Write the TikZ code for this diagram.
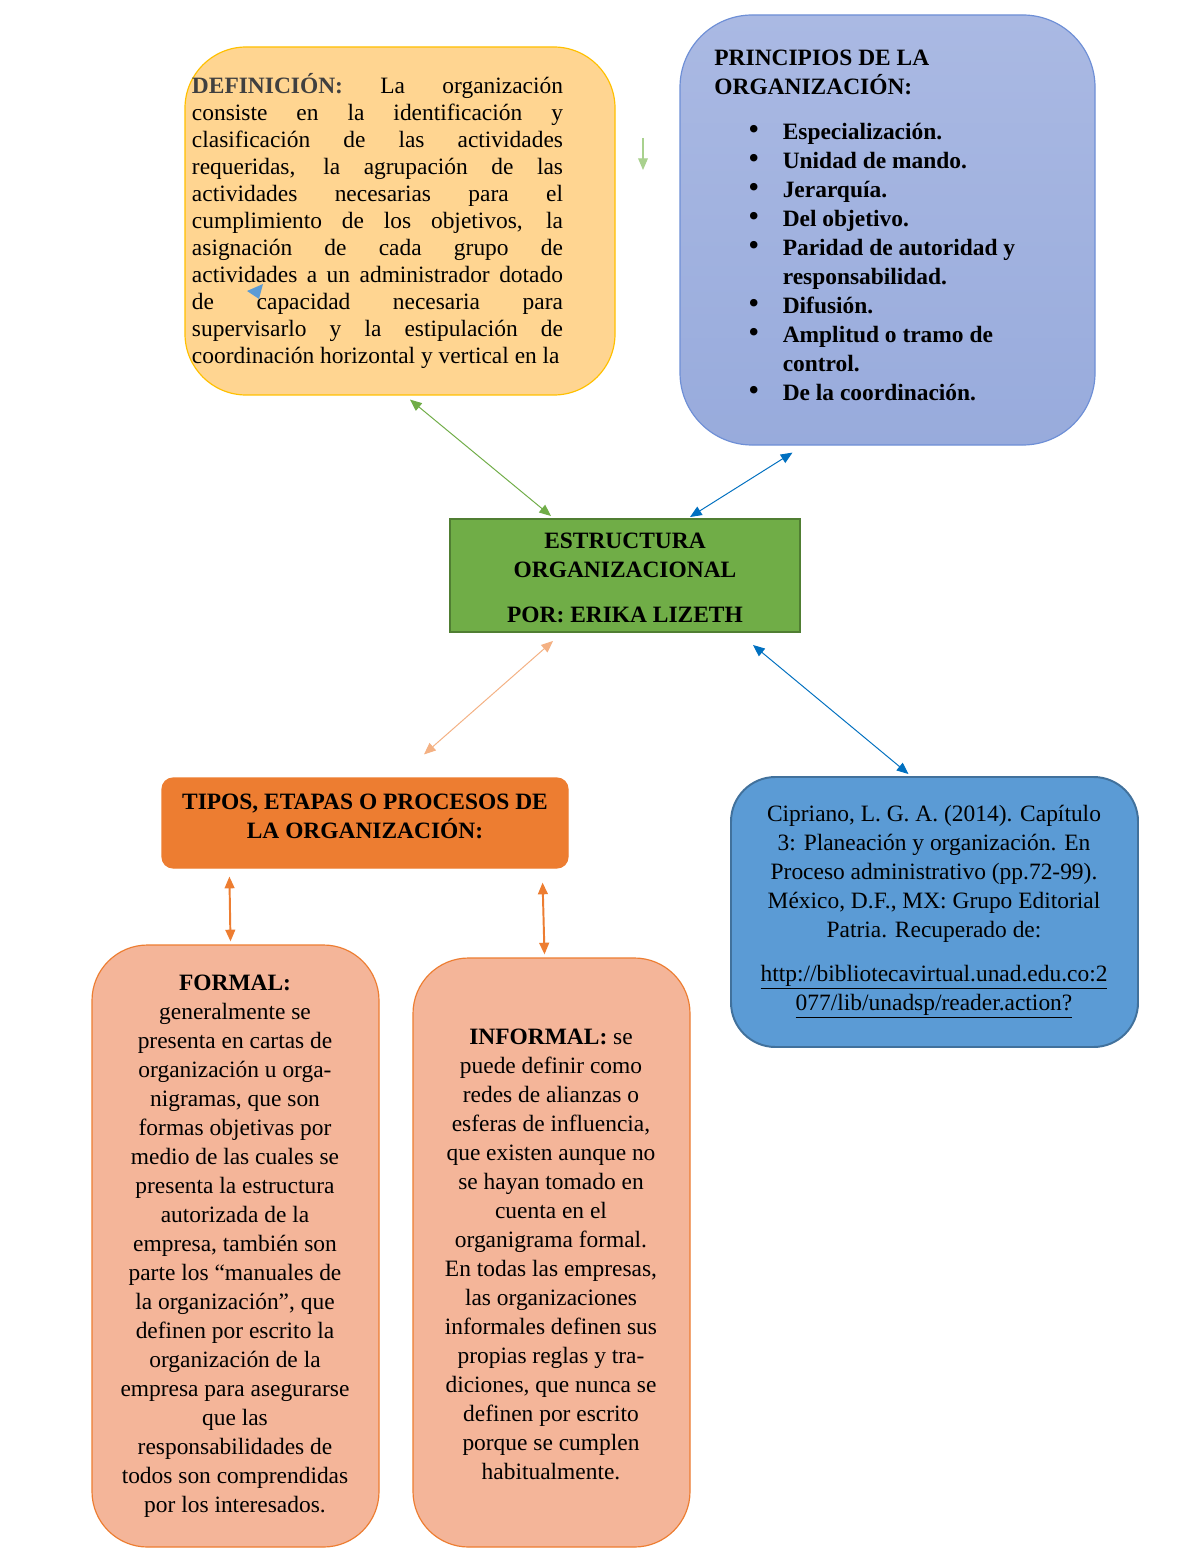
\documentclass[tikz,border=0pt]{standalone}
\usepackage{fontspec}
\setmainfont{Liberation Serif}
\usetikzlibrary{arrows.meta,fit}

\definecolor{defFill}{HTML}{FFD591}
\definecolor{defLine}{HTML}{FFC000}
\definecolor{defGray}{HTML}{404040}
\definecolor{prinTop}{HTML}{AAB9E3}
\definecolor{prinBot}{HTML}{98ABDC}
\definecolor{prinLine}{HTML}{6E8FD6}
\definecolor{coreFill}{HTML}{70AD47}
\definecolor{coreLine}{HTML}{507E32}
\definecolor{tipoFill}{HTML}{ED7D31}
\definecolor{citeFill}{HTML}{5B9BD5}
\definecolor{citeLine}{HTML}{41719C}
\definecolor{kindFill}{HTML}{F4B599}
\definecolor{lnkBlue}{HTML}{0070C0}
\definecolor{lnkPeach}{HTML}{F4B183}
\definecolor{lnkPale}{HTML}{A9D18E}

\newcommand\bigbullet{{\fontsize{16}{14.85}\selectfont\textbullet}}

\begin{document}
\begin{tikzpicture}[x=0.18mm,y=-0.18mm,
      box/.style={draw,line width=0.6pt,inner sep=0pt},
      defbox/.style={box,draw=defLine,fill=defFill,rounded corners=11mm},
      prinbox/.style={box,draw=prinLine,top color=prinTop,bottom color=prinBot,rounded corners=13mm},
      corebox/.style={box,draw=coreLine,fill=coreFill,line width=1pt},
      tipobox/.style={box,draw=tipoFill,fill=tipoFill,rounded corners=2mm},
      citebox/.style={box,draw=citeLine,fill=citeFill,line width=1pt,rounded corners=8mm},
      kindbox/.style={box,draw=tipoFill,fill=kindFill,rounded corners=10mm},
      txt/.style={inner sep=0pt,font=\fontsize{12}{14.85}\selectfont},
      txtb/.style={inner sep=0pt,font=\fontsize{12}{14.85}\selectfont\bfseries},
      dub/.style={line width=0.5pt,{Triangle[length=6pt,width=5pt]}-{Triangle[length=6pt,width=5pt]}},
      dubthick/.style={line width=1pt,{Triangle[length=6pt,width=5pt]}-{Triangle[length=6pt,width=5pt]}}]
      \path[use as bounding box,fill=white] (0,0) rectangle (1200,1553);
      % Boxes
      \node[defbox,fit={(185,47) (615,395)}] (def) {};
      \node[prinbox,fit={(680,15) (1095,445)}] (prin) {};
      \node[corebox,fit={(450,519) (800,632)}] (core) {};
      \node[tipobox,fit={(162,778) (568,868)}] (tipos) {};
      \node[citebox,fit={(731,777) (1138,1047)}] (cite) {};
      \node[kindbox,fit={(92,945) (379,1547)}] (formal) {};
      \node[kindbox,fit={(413,958) (690,1547)}] (informal) {};
      % Texts
      \node[inner sep=0pt,text width=190pt,align=justify,
        font=\fontsize{12}{13.8}\selectfont] (deftxt) at (377.5,221)
        {\parfillskip=0pt\hyphenpenalty=10000
        {\color{defGray}\textbf{DEFINICIÓN:}} La organización\linebreak
        consiste en la identificación y\linebreak
        clasificación de las actividades\linebreak
        requeridas, la agrupación de las\linebreak
        actividades necesarias para el\linebreak
        cumplimiento de los objetivos, la\linebreak
        asignación de cada grupo de\linebreak
        actividades a un administrador dotado\linebreak
        de capacidad necesaria para\linebreak
        supervisarlo y la estipulación de\linebreak
        coordinación horizontal y vertical en la};
      \node[txtb,anchor=west,align=left] (printitle) at (714,72) {PRINCIPIOS DE LA\\ORGANIZACIÓN:};
      \node[txt,anchor=west] (prinlist) at (748,264) {\begin{tabular}{@{}l@{\hspace{12pt}}l@{}}
        \bigbullet & \textbf{Especialización.}\\
        \bigbullet & \textbf{Unidad de mando.}\\
        \bigbullet & \textbf{Jerarquía.}\\
        \bigbullet & \textbf{Del objetivo.}\\
        \bigbullet & \textbf{Paridad de autoridad y}\\
                   & \textbf{responsabilidad.}\\
        \bigbullet & \textbf{Difusión.}\\
        \bigbullet & \textbf{Amplitud o tramo de}\\
                   & \textbf{control.}\\
        \bigbullet & \textbf{De la coordinación.}
        \end{tabular}};
      \node[txtb,align=center] (coretxt) at (625,578) {ESTRUCTURA\\ORGANIZACIONAL\\[8pt]POR: ERIKA LIZETH};
      \node[txtb,align=center] (tipostxt) at (365,816) {TIPOS, ETAPAS O PROCESOS DE\\LA ORGANIZACIÓN:};
      \node[txt,align=center] (citetxt) at (934,912) {Cipriano, L. G. A. (2014). Capítulo\\
        3: Planeación y organización. En\\
        Proceso administrativo (pp.72-99).\\
        México, D.F., MX: Grupo Editorial\\
        Patria. Recuperado de:\\[7.5pt]
        \underline{http://bibliotecavirtual.unad.edu.co:2}\\
        \underline{077/lib/unadsp/reader.action?}};
      \node[txt,align=center] (formaltxt) at (235,1246) {\textbf{FORMAL:}\\
        generalmente se\\
        presenta en cartas de\\
        organización u orga-\\
        nigramas, que son\\
        formas objetivas por\\
        medio de las cuales se\\
        presenta la estructura\\
        autorizada de la\\
        empresa, también son\\
        parte los “manuales de\\
        la organización”, que\\
        definen por escrito la\\
        organización de la\\
        empresa para asegurarse\\
        que las\\
        responsabilidades de\\
        todos son comprendidas\\
        por los interesados.};
      \node[txt,align=center] (informaltxt) at (551,1254) {\textbf{INFORMAL:} se\\
        puede definir como\\
        redes de alianzas o\\
        esferas de influencia,\\
        que existen aunque no\\
        se hayan tomado en\\
        cuenta en el\\
        organigrama formal.\\
        En todas las empresas,\\
        las organizaciones\\
        informales definen sus\\
        propias reglas y tra-\\
        diciones, que nunca se\\
        definen por escrito\\
        porque se cumplen\\
        habitualmente.};
      % Connectors
      \draw[dub,coreFill] ([shift={(10,4)}]def.south) -- ([shift={(-74,-2)}]core.north);
      \draw[dub,lnkBlue] ([shift={(65,-1)}]core.north) -- ([shift={(-95,7)}]prin.south);
      \draw[dub,lnkPeach] ([shift={(-72,8)}]core.south) -- ([shift={(59,-23)}]tipos.north);
      \draw[dub,lnkBlue] ([shift={(128,12)}]core.south) -- ([shift={(-26,-2)}]cite.north);
      \draw[dubthick,tipoFill] ([shift={(68,8)}]tipos.south west) -- ([shift={(-5,-3)}]formal.north);
      \draw[dubthick,tipoFill] ([shift={(-26,14)}]tipos.south east) -- ([shift={(-7,-3)}]informal.north);
      % Stray marks
      \coordinate (paletop) at (643,138);
      \coordinate (palebot) at (643,170);
      \draw[line width=0.6pt,lnkPale,-{Triangle[length=6pt,width=5pt]}] (paletop) -- (palebot);
      \fill[citeFill] (247,291) -- (263,284) -- (259,299) -- cycle;
\end{tikzpicture}
\end{document}
